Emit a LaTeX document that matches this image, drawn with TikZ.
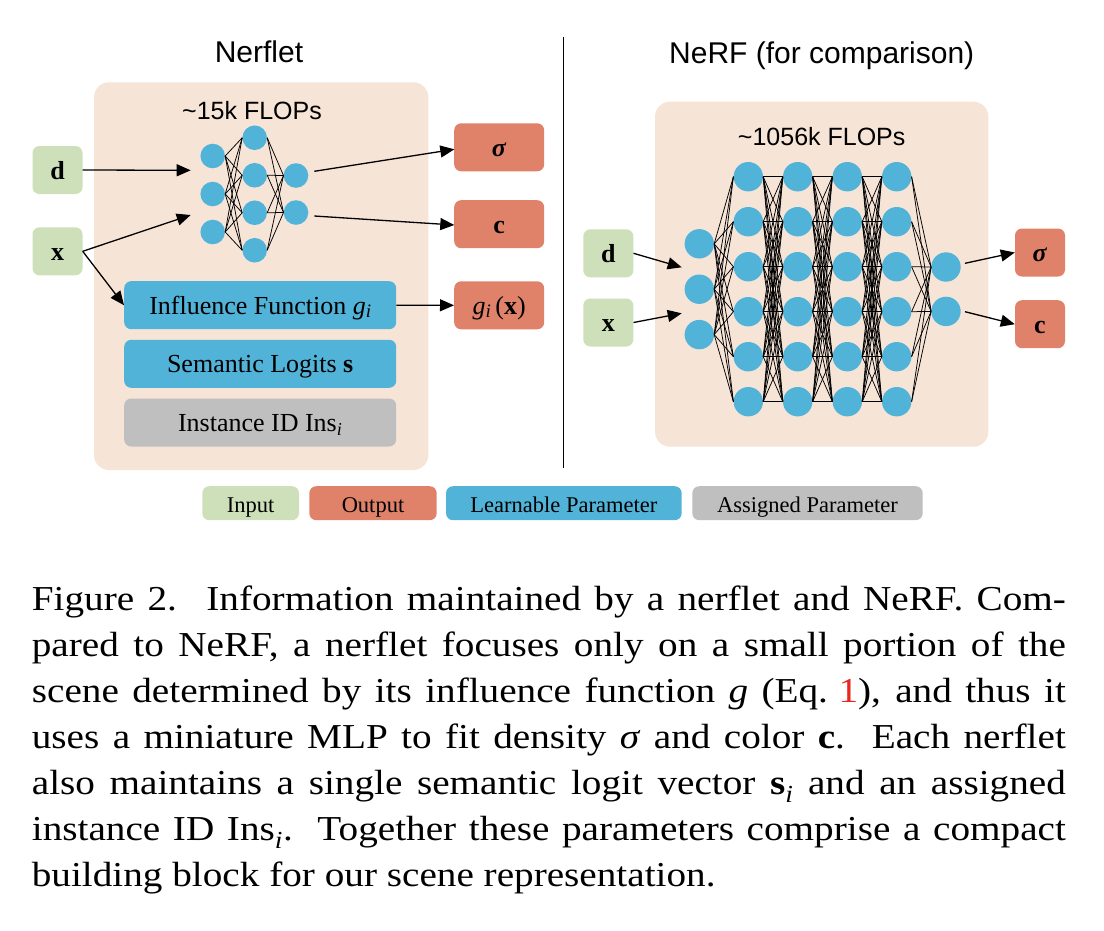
\documentclass[tikz,border=0pt]{standalone}
\usepackage{fontspec}
\setmainfont{Liberation Serif}
\newfontfamily\arialf{Liberation Sans}
\newfontfamily\capfont[FakeStretch=1.12]{Liberation Serif}
\usetikzlibrary{arrows.meta}
\definecolor{peach}{RGB}{246,228,215}
\definecolor{ingreen}{RGB}{205,224,186}
\definecolor{outorange}{RGB}{224,130,106}
\definecolor{learnblue}{RGB}{82,179,217}
\definecolor{assgray}{RGB}{191,191,191}
\definecolor{linkred}{RGB}{230,40,30}
\newcommand{\capline}[1]{\makebox[1034pt][s]{#1}}
\newcommand{\subi}{\raisebox{-0.28ex}{\fontsize{19}{20}\selectfont\textit{i}}}
\begin{document}
\begin{tikzpicture}[x=1pt,y=-1pt,
  panel/.style={fill=peach, rounded corners=15pt},
  box/.style={rounded corners=7pt, minimum height=48pt, inner sep=0pt, text height=18pt, text depth=0pt, font=\fontsize{26}{30}\selectfont},
  inbox/.style={box, fill=ingreen, minimum width=50pt},
  outbox/.style={box, fill=outorange, minimum width=90pt},
  routbox/.style={box, fill=outorange, minimum width=50pt},
  learnbox/.style={box, fill=learnblue, minimum width=272pt},
  assbox/.style={box, fill=assgray, minimum width=272pt},
  neuron/.style={circle, fill=learnblue, inner sep=0pt, minimum size=24.6pt},
  bneuron/.style={circle, fill=learnblue, inner sep=0pt, minimum size=29.4pt},
  conn/.style={line width=0.75pt},
  arr/.style={line width=1.3pt, -{Triangle[length=14pt,width=12pt]}},
  legbox/.style={rounded corners=7pt, minimum height=34pt, inner sep=0pt, text height=17.6pt, text depth=0pt, font=\fontsize{22.5}{26}\selectfont},
  title/.style={font=\arialf\fontsize{30}{34}\selectfont, anchor=base, inner sep=0pt},
  flops/.style={font=\arialf\fontsize{25}{29}\selectfont, anchor=base, inner sep=0pt},
  capt/.style={font=\capfont\fontsize{35}{46}\selectfont, anchor=base west, inner sep=0pt}]
\fill[white] (0,0) rectangle (1104,930);
\useasboundingbox (0,0) rectangle (1104,930);

% ---------- left panel ----------
\node[title] (tl) at (259,62.3) {Nerflet};
\fill[panel] (94,82.3) rectangle (428.3,470);
\node[flops] (fl) at (252,119.3) {\textasciitilde15k FLOPs};

\node[inbox] (d) at (57.5,170) {\textbf{d}};
\node[inbox] (x) at (57.5,251.3) {\textbf{x}};

\foreach \i/\y in {1/156,2/194,3/232}
  \node[neuron] (La\i) at (212.7,\y) {};
\foreach \i/\y in {1/137.75,2/175.25,3/212.75,4/250.25}
  \node[neuron] (Lb\i) at (254.7,\y) {};
\foreach \i/\y in {1/175.5,2/212.5}
  \node[neuron] (Lc\i) at (296,\y) {};
\foreach \i in {1,2,3}
  \foreach \j in {1,2,3,4}
    \draw[conn] (La\i.east) -- (Lb\j.west);
\foreach \i in {1,2,3,4}
  \foreach \j in {1,2}
    \draw[conn] (Lb\i.east) -- (Lc\j.west);

\node[outbox] (sig) at (499.2,147.3) {\textbf{\textit{σ}}};
\node[outbox] (c) at (499.2,224.2) {\textbf{c}};
\node[outbox] (gx) at (499.2,305.3) {\textit{g}\subi\,(\textbf{x})};

\node[learnbox] (infl) at (260.2,305.2) {Influence Function \textit{g}\subi};
\node[learnbox] (sem) at (260.2,363.8) {Semantic Logits \textbf{s}};
\node[assbox] (ins) at (260.2,422.5) {Instance ID Ins\textsubscript{\textit{i}}};

\coordinate (dA) at (190.7,170.3);
\coordinate (xA) at (190.7,215);
\coordinate (sS) at (314.3,171.3);
\coordinate (cS) at (314.3,216);
\coordinate (sT) at (454.3,149.3);
\coordinate (cT) at (454.3,225);
\draw[arr] (d.east) -- (dA);
\draw[arr] (x.east) -- (xA);
\draw[arr] (x.east) -- (infl.west);
\draw[arr] (infl.east) -- (gx.west);
\draw[arr] (sS) -- (sT);
\draw[arr] (cS) -- (cT);

% ---------- separator ----------
\coordinate (sepT) at (563,37);
\coordinate (sepB) at (563,468);
\draw[line width=1pt] (sepT) -- (sepB);

% ---------- right panel ----------
\node[title] (tr) at (821.7,63.3) {NeRF (for comparison)};
\fill[panel] (655,101.7) rectangle (988.3,446.7);
\node[flops] (fr) at (821.7,145) {\textasciitilde1056k FLOPs};

\node[inbox] (rd) at (608.3,253.3) {\textbf{d}};
\node[inbox] (rx) at (608.3,322.5) {\textbf{x}};

\foreach \i/\y in {1/243.8,2/289.2,3/334.6}
  \node[bneuron] (Ri\i) at (699.3,\y) {};
\foreach \l/\xx in {1/748.3,2/797.7,3/847.3,4/896.7}
  \foreach \k in {1,...,6}
    \node[bneuron] (H\l-\k) at (\xx,{176.7+45*(\k-1)}) {};
\foreach \i/\y in {1/267,2/311.4}
  \node[bneuron] (Ro\i) at (946,\y) {};

\foreach \i in {1,2,3}
  \foreach \k in {1,...,6}
    \draw[conn] (Ri\i.east) -- (H1-\k.west);
\foreach \l/\m in {1/2,2/3,3/4}
  \foreach \i in {1,...,6}
    \foreach \k in {1,...,6}
      \draw[conn] (H\l-\i.east) -- (H\m-\k.west);
\foreach \i in {1,...,6}
  \foreach \k in {1,2}
    \draw[conn] (H4-\i.east) -- (Ro\k.west);

\node[routbox] (rsig) at (1040,252.5) {\textbf{\textit{σ}}};
\node[routbox] (rc) at (1040,324.2) {\textbf{c}};

\coordinate (rdA) at (681.7,267.3);
\coordinate (rxA) at (681.7,313.3);
\coordinate (rsS) at (965,263.3);
\coordinate (rcS) at (965,311.7);
\draw[arr] (rd.east) -- (rdA);
\draw[arr] (rx.east) -- (rxA);
\draw[arr] (rsS) -- (rsig.west);
\draw[arr] (rcS) -- (rc.west);

% ---------- legend ----------
\node[legbox, fill=ingreen, minimum width=96.7pt] (lin) at (250.65,503.2) {Input};
\node[legbox, fill=outorange, minimum width=127.4pt] (lout) at (373,503.2) {Output};
\node[legbox, fill=learnblue, minimum width=235.7pt] (llearn) at (563.85,503.2) {Learnable Parameter};
\node[legbox, fill=assgray, minimum width=230.4pt] (lass) at (807.5,503.2) {Assigned Parameter};

% ---------- caption ----------
\node[capt] (cap1) at (31.7,610.7) {\capline{Figure 2.\hspace{6pt} Information maintained by a nerflet and NeRF. Com-}};
\node[capt] (cap2) at (31.7,656.7) {\capline{pared to NeRF, a nerflet focuses only on a small portion of the}};
\node[capt] (cap3) at (31.7,702.7) {\capline{scene determined by its influence function \textit{g} (Eq.\hspace{0.3em}\textcolor{linkred}{1}), and thus it}};
\node[capt] (cap4) at (31.7,748.7) {\capline{uses a miniature MLP to fit density \textit{σ} and color \textbf{c}.\hspace{3pt} Each nerflet}};
\node[capt] (cap5) at (31.7,794.7) {\capline{also maintains a single semantic logit vector \textbf{s}\textsubscript{\textit{i}} and an assigned}};
\node[capt] (cap6) at (31.7,840.7) {\capline{instance ID Ins\textsubscript{\textit{i}}.\hspace{3pt} Together these parameters comprise a compact}};
\node[capt] (cap7) at (31.7,886.7) {building block for our scene representation.};
\end{tikzpicture}
\end{document}
